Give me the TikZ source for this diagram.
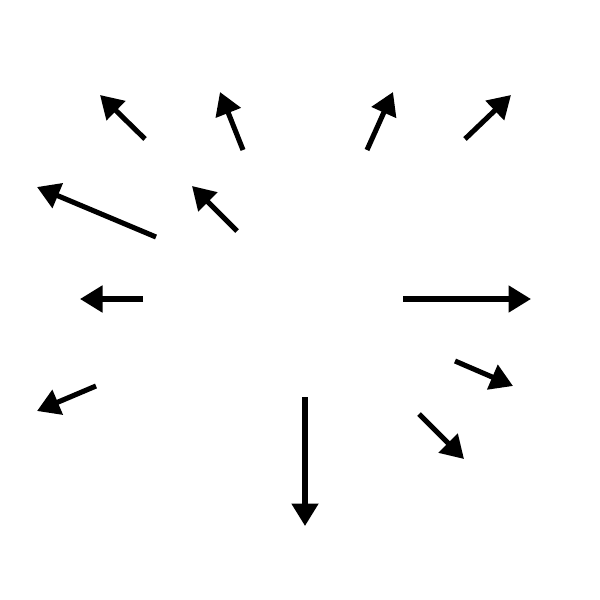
\documentclass[tikz,border=0pt]{standalone}
\usepackage{tikz}
\usetikzlibrary{arrows.meta}

\begin{document}
\begin{tikzpicture}[x = 0.2mm, y = -0.2mm, ray/.style = {line width = 2.9pt, -{Triangle[length = 4.5mm, width = 5.2mm]}}]
\useasboundingbox (0, 0) rectangle (600, 600);
\coordinate (ulA) at (145, 139); \coordinate (ulB) at (100, 95);
\coordinate (utA) at (243, 150); \coordinate (utB) at (220, 92);
\coordinate (urA) at (367, 150); \coordinate (urB) at (393, 92);
\coordinate (ueA) at (465, 139); \coordinate (ueB) at (511, 95);
\coordinate (lgA) at (156, 237); \coordinate (lgB) at (37, 187);
\coordinate (lmA) at (237, 231); \coordinate (lmB) at (192, 186);
\coordinate (lhA) at (143, 299); \coordinate (lhB) at (80, 299);
\coordinate (llA) at (96, 386); \coordinate (llB) at (37, 411);
\coordinate (rhA) at (403, 299); \coordinate (rhB) at (531, 299);
\coordinate (rlA) at (455, 361); \coordinate (rlB) at (513, 386);
\coordinate (rdA) at (419, 414); \coordinate (rdB) at (464, 459);
\coordinate (dnA) at (305, 397); \coordinate (dnB) at (305, 526);
\draw [ray] (ulA) -- (ulB);
\draw [ray] (utA) -- (utB);
\draw [ray] (urA) -- (urB);
\draw [ray] (ueA) -- (ueB);
\draw [ray] (lgA) -- (lgB);
\draw [ray] (lmA) -- (lmB);
\draw [ray] (lhA) -- (lhB);
\draw [ray] (llA) -- (llB);
\draw [ray] (rhA) -- (rhB);
\draw [ray] (rlA) -- (rlB);
\draw [ray] (rdA) -- (rdB);
\draw [ray] (dnA) -- (dnB);
\end{tikzpicture}
\end{document}
